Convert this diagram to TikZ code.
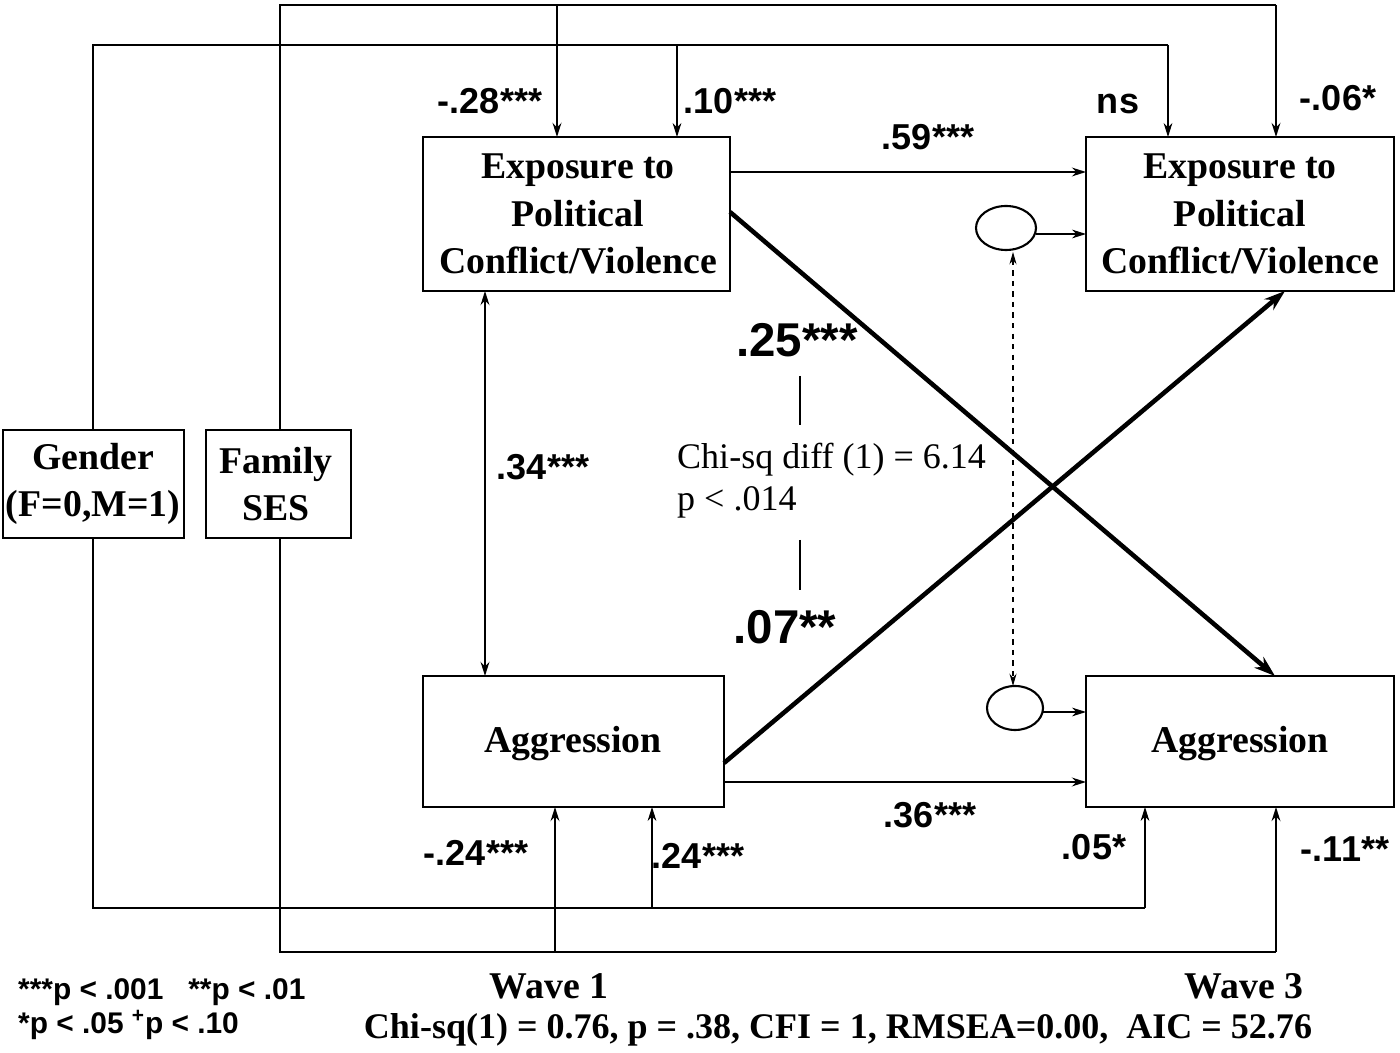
\documentclass[tikz,border=0pt]{standalone}
\usepackage{fontspec}
\setmainfont{Liberation Serif}
\newfontfamily\arialf{Liberation Sans}
\usetikzlibrary{arrows.meta}
\begin{document}
\begin{tikzpicture}[x=0.02cm,y=-0.02cm,
 box/.style={inner sep=0pt,font=\fontsize{21.5}{27}\selectfont\bfseries,align=center},
 co/.style={font=\arialf\bfseries\fontsize{20.5}{24}\selectfont},
 cob/.style={font=\arialf\bfseries\fontsize{27}{30}\selectfont},
 thin/.style={line width=0.6pt},
 med/.style={line width=1.2pt},
 ar/.style={-{Stealth[length=8pt,width=5pt]}},
 thick3/.style={line width=2.6pt,-{Stealth[length=12pt,width=8pt]}}]
\useasboundingbox (0,0) rectangle (1400,1053);
\draw[line width=1.2pt] (3,430) rectangle (184,538);
\node[box] (gt) at (93,484) {Gender\\(F=0,M=1)};
\draw[line width=1.2pt] (206,430) rectangle (351,538);
\node[box] (st) at (276,484) {Family\\SES};
\draw[line width=1.2pt] (423,137) rectangle (730,291);
\node[box] (e1) at (578,214) {Exposure to\\Political\\Conflict/Violence};
\draw[line width=1.2pt] (1086,137) rectangle (1394,291);
\node[box] (e3) at (1240,214) {Exposure to\\Political\\Conflict/Violence};
\draw[line width=1.2pt] (423,676) rectangle (724,807);
\node[box] (a1) at (573,744) {Aggression};
\draw[line width=1.2pt] (1086,676) rectangle (1394,807);
\node[box] (a3) at (1240,744) {Aggression};
% SES top
\draw[med] (280,430) -- (280,5) -- (1276,5);
\draw[med,ar] (1276,5) -- (1276,137);
\draw[med,ar] (557,5) -- (557,137);
% Gender top
\draw[thin] (93,430) -- (93,45) -- (1168,45);
\draw[thin,ar] (1168,45) -- (1168,137);
\draw[thin,ar] (677,45) -- (677,137);
% Gender bottom
\draw[thin] (93,538) -- (93,908) -- (1145,908);
\draw[thin,ar] (1145,908) -- (1145,807);
\draw[thin,ar] (652,908) -- (652,807);
% SES bottom
\draw[med] (280,538) -- (280,952) -- (1276,952);
\draw[med,ar] (1276,952) -- (1276,807);
\draw[med,ar] (555,952) -- (555,807);
% paths
\draw[med,ar] (730,172) -- (1086,172);
\draw[med,ar] (724,782) -- (1086,782);
\draw[thick3] (730,212) -- (1275,676);
\draw[thick3] (724,763) -- (1285,291);
\draw[med,{Stealth[length=8pt,width=5pt]}-{Stealth[length=8pt,width=5pt]}] (485,291) -- (485,676);
\draw[med] (1006,228) ellipse (30 and 22);
\draw[med] (1015,708) ellipse (28 and 22);
\coordinate (c1e) at (1036,234); \coordinate (c2e) at (1043,712);
\draw[thin,ar] (c1e) -- (1086,234);
\draw[thin,ar] (c2e) -- (1086,712);
\draw[thin,dashed,{Stealth[length=7pt,width=4pt]}-{Stealth[length=7pt,width=4pt]}] (1013,252) -- (1013,686);
\draw[thin] (800,376) -- (800,425);
\draw[thin] (800,540) -- (800,590);
% labels
\node[co] at (490,101) {-.28***};
\node[co] at (730,101) {.10***};
\node[co] at (1118,104) {ns};
\node[co] at (1338,98) {-.06*};
\node[co] at (928,137) {.59***};
\node[cob] at (797,340) {.25***};
\node[cob] at (785,627) {.07**};
\node[co] at (543,467) {.34***};
\node[font=\fontsize{20.5}{24}\selectfont,align=left,anchor=west] at (671,481) {Chi-sq diff (1) = 6.14\\p < .014};
\node[co] at (930,815) {.36***};
\node[co] at (476,853) {-.24***};
\node[co] at (698,856) {.24***};
\node[co] at (1094,847) {.05*};
\node[co] at (1345,849) {-.11**};
\node[box] at (549,986) {Wave 1};
\node[box] at (1244,986) {Wave 3};
\node[box,font=\fontsize{20.5}{24}\selectfont\bfseries] at (838,1030) {Chi-sq(1) = 0.76, p = .38, CFI = 1, RMSEA=0.00,\ \ AIC = 52.76};
\node[font=\arialf\bfseries\fontsize{17}{19}\selectfont,align=left,anchor=west] at (12,1009) {***p < .001\ \ \ **p < .01\\*p < .05 \textsuperscript{+}p < .10};
\end{tikzpicture}
\end{document}
